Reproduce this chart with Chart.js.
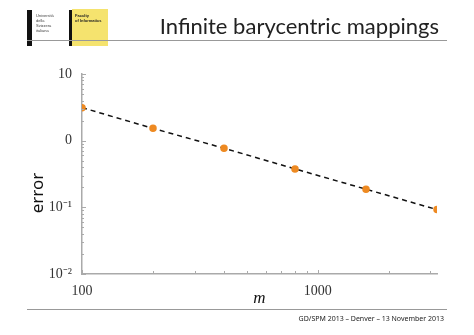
<!DOCTYPE html>
<html><head><meta charset="utf-8">
<script src="https://cdn.jsdelivr.net/npm/chart.js@4"></script>
<style>
html,body{margin:0;padding:0;background:#fff;}
#wrap{position:relative;width:474px;height:335px;overflow:hidden;}
canvas{position:absolute;left:0;top:0;}
.bar{position:absolute;background:#111;}
.hl{position:absolute;background:#999;height:1px;}
.small{position:absolute;font-family:"Liberation Sans",sans-serif;font-size:4px;line-height:5px;color:#444;}
#title{position:absolute;right:35px;top:12px;font-family:Lato,sans-serif;font-size:22px;color:#222;white-space:nowrap;}
#foot{position:absolute;right:30px;top:314px;font-family:"Noto Sans",sans-serif;font-size:7px;color:#222;white-space:nowrap;}
</style></head>
<body><div id="wrap">
<canvas id="c" width="474" height="335"></canvas>
<div style="position:absolute;left:72px;top:9px;width:36px;height:37px;background:#f5e36e;"></div>
<div class="bar" style="left:27px;top:10px;width:5px;height:36px;"></div>
<div class="bar" style="left:69px;top:10px;width:3px;height:36px;"></div>
<div class="hl" style="left:27px;top:40px;width:420px;"></div>
<div class="small" style="left:36px;top:13px;">Università<br>della<br>Svizzera<br>italiana</div>
<div class="small" style="left:75px;top:13px;font-weight:bold;color:#222;">Faculty<br>of Informatics</div>
<div id="title">Infinite barycentric mappings</div>
<div class="hl" style="left:27px;top:309px;width:420px;"></div>
<div id="foot">GD/SPM 2013 – Denver – 13 November 2013</div>
</div>
<script>
const mValues = [100, 200, 400, 800, 1600, 3200];
const errorValues = [3.13, 1.53, 0.77, 0.377, 0.187, 0.0925];
const xTickValues = [100, 1000];
const xTickLabels = ['100', '1000'];
const xMinorTicks = [200,300,400,500,600,700,800,900,2000,3000];
const yTickValues = [0.01, 0.1, 1, 10];
const yTickLabels = ['10⁻²', '10⁻¹', '0', '10'];
const yMinorTicks = [];
[0.01,0.1,1].forEach(d=>{for(let k=2;k<=9;k++) yMinorTicks.push(d*k);});

const innerTicks = {
  id:'innerTicks',
  afterDatasetsDraw(chart){
    const {ctx, scales:{x,y}} = chart;
    ctx.save();
    ctx.strokeStyle = '#aaa';
    ctx.lineWidth = 1;
    ctx.beginPath();
    xMinorTicks.forEach(v=>{const px=Math.round(x.getPixelForValue(v))+0.5; ctx.moveTo(px,y.bottom); ctx.lineTo(px,y.bottom-3);});
    xTickValues.forEach(v=>{const px=Math.round(x.getPixelForValue(v))+0.5; ctx.moveTo(px,y.bottom); ctx.lineTo(px,y.bottom-4);});
    yMinorTicks.forEach(v=>{const py=Math.round(y.getPixelForValue(v))+0.5; ctx.moveTo(x.left,py); ctx.lineTo(x.left+2,py);});
    yTickValues.forEach(v=>{const py=Math.round(y.getPixelForValue(v))+0.5; ctx.moveTo(x.left,py); ctx.lineTo(x.left+4,py);});
    ctx.stroke();
    // y axis title
    ctx.fillStyle = '#111';
    ctx.font = '17px "Noto Sans", sans-serif';
    ctx.textAlign = 'center';
    ctx.textBaseline = 'middle';
    ctx.translate(38, 193);
    ctx.rotate(-Math.PI/2);
    ctx.fillText('error', 0, 0);
    ctx.restore();
  }
};

new Chart(document.getElementById('c'), {
  type: 'line',
  data: { datasets: [{
    data: mValues.map((m,i)=>({x:m, y:errorValues[i]})),
    borderColor: '#111', borderWidth: 1.5, borderDash: [5,4],
    pointBackgroundColor: '#ee8a22', pointBorderColor: '#ee8a22',
    pointRadius: 3, pointHoverRadius: 3, fill:false, tension:0
  }]},
  options: {
    responsive:false, animation:false, events:[],
    layout:{padding:{left:0, right:37, top:74, bottom:0}},
    plugins:{legend:{display:false}, tooltip:{enabled:false}},
    scales:{
      x:{type:'logarithmic', min:100, max:3200,
        afterBuildTicks:s=>{s.ticks = xTickValues.map(v=>({value:v}));},
        ticks:{callback:(v,i)=>xTickLabels[i], font:{family:'"Liberation Serif", serif', size:14}, color:'#333', padding:9, maxRotation:0, autoSkip:false},
        grid:{drawOnChartArea:false, drawTicks:false},
        border:{color:'#aaa', width:1.5},
        title:{display:true, text:'m', font:{family:'"Liberation Serif", serif', size:17, style:'italic'}, color:'#111', padding:{top:0,bottom:26}},
        afterFit:s=>{s.height = 61;}
      },
      y:{type:'logarithmic', min:0.01, max:10,
        afterBuildTicks:s=>{s.ticks = yTickValues.map(v=>({value:v}));},
        ticks:{callback:(v,i)=>yTickLabels[i], font:{family:'"Liberation Serif", serif', size:14}, color:'#333', padding:10, autoSkip:false},
        grid:{drawOnChartArea:false, drawTicks:false},
        border:{color:'#aaa', width:1.5},
        afterFit:s=>{s.width = 82;}
      }
    }
  },
  plugins:[innerTicks]
});
</script>
</body></html>
